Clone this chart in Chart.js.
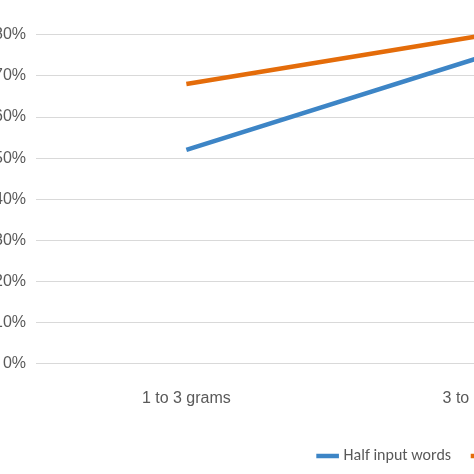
<!DOCTYPE html>
<html><head><style>
html,body{margin:0;padding:0;overflow:hidden;width:474px;height:474px;background:#fff}
#c{position:absolute;left:-16px;top:-26px}
</style>
<script src="https://cdn.jsdelivr.net/npm/chart.js@4/dist/chart.umd.min.js"></script>
</head><body>
<canvas id="c" width="954" height="500"></canvas>
<script>
const categories=["1 to 3 grams","3 to 6 grams","6 to 9 grams"];
const halfInput=[52,75,80];
const fullInput=[68,80,83];
const seriesNames=["Half input words","Full input words"];
new Chart(document.getElementById('c'),{
type:'line',
data:{labels:categories,datasets:[
{label:seriesNames[0],data:halfInput,borderColor:'#3d85c6',backgroundColor:'#3d85c6',borderWidth:4.5,pointRadius:0,tension:0},
{label:seriesNames[1],data:fullInput,borderColor:'#e46c0a',backgroundColor:'#e46c0a',borderWidth:4.5,pointRadius:0,tension:0}]},
options:{responsive:false,animation:false,devicePixelRatio:1,
layout:{padding:{top:14,left:0,right:0,bottom:0}},
plugins:{legend:{position:'bottom',labels:{usePointStyle:true,pointStyle:'line',boxWidth:50,font:{size:16,family:'Calibri, Carlito, Liberation Sans, sans-serif'},color:'#595959',padding:23}},tooltip:{enabled:false}},
scales:{
x:{offset:true,grid:{display:false},border:{color:'#d9d9d9'},ticks:{font:{size:16,family:'Liberation Sans, sans-serif'},color:'#595959',padding:17}},
y:{min:0,max:90,ticks:{stepSize:10,callback:v=>v+'%',font:{size:16,family:'Liberation Sans, sans-serif'},color:'#595959',padding:10},grid:{color:'#d9d9d9',drawTicks:false},border:{display:false}}
}}});
</script></body></html>
